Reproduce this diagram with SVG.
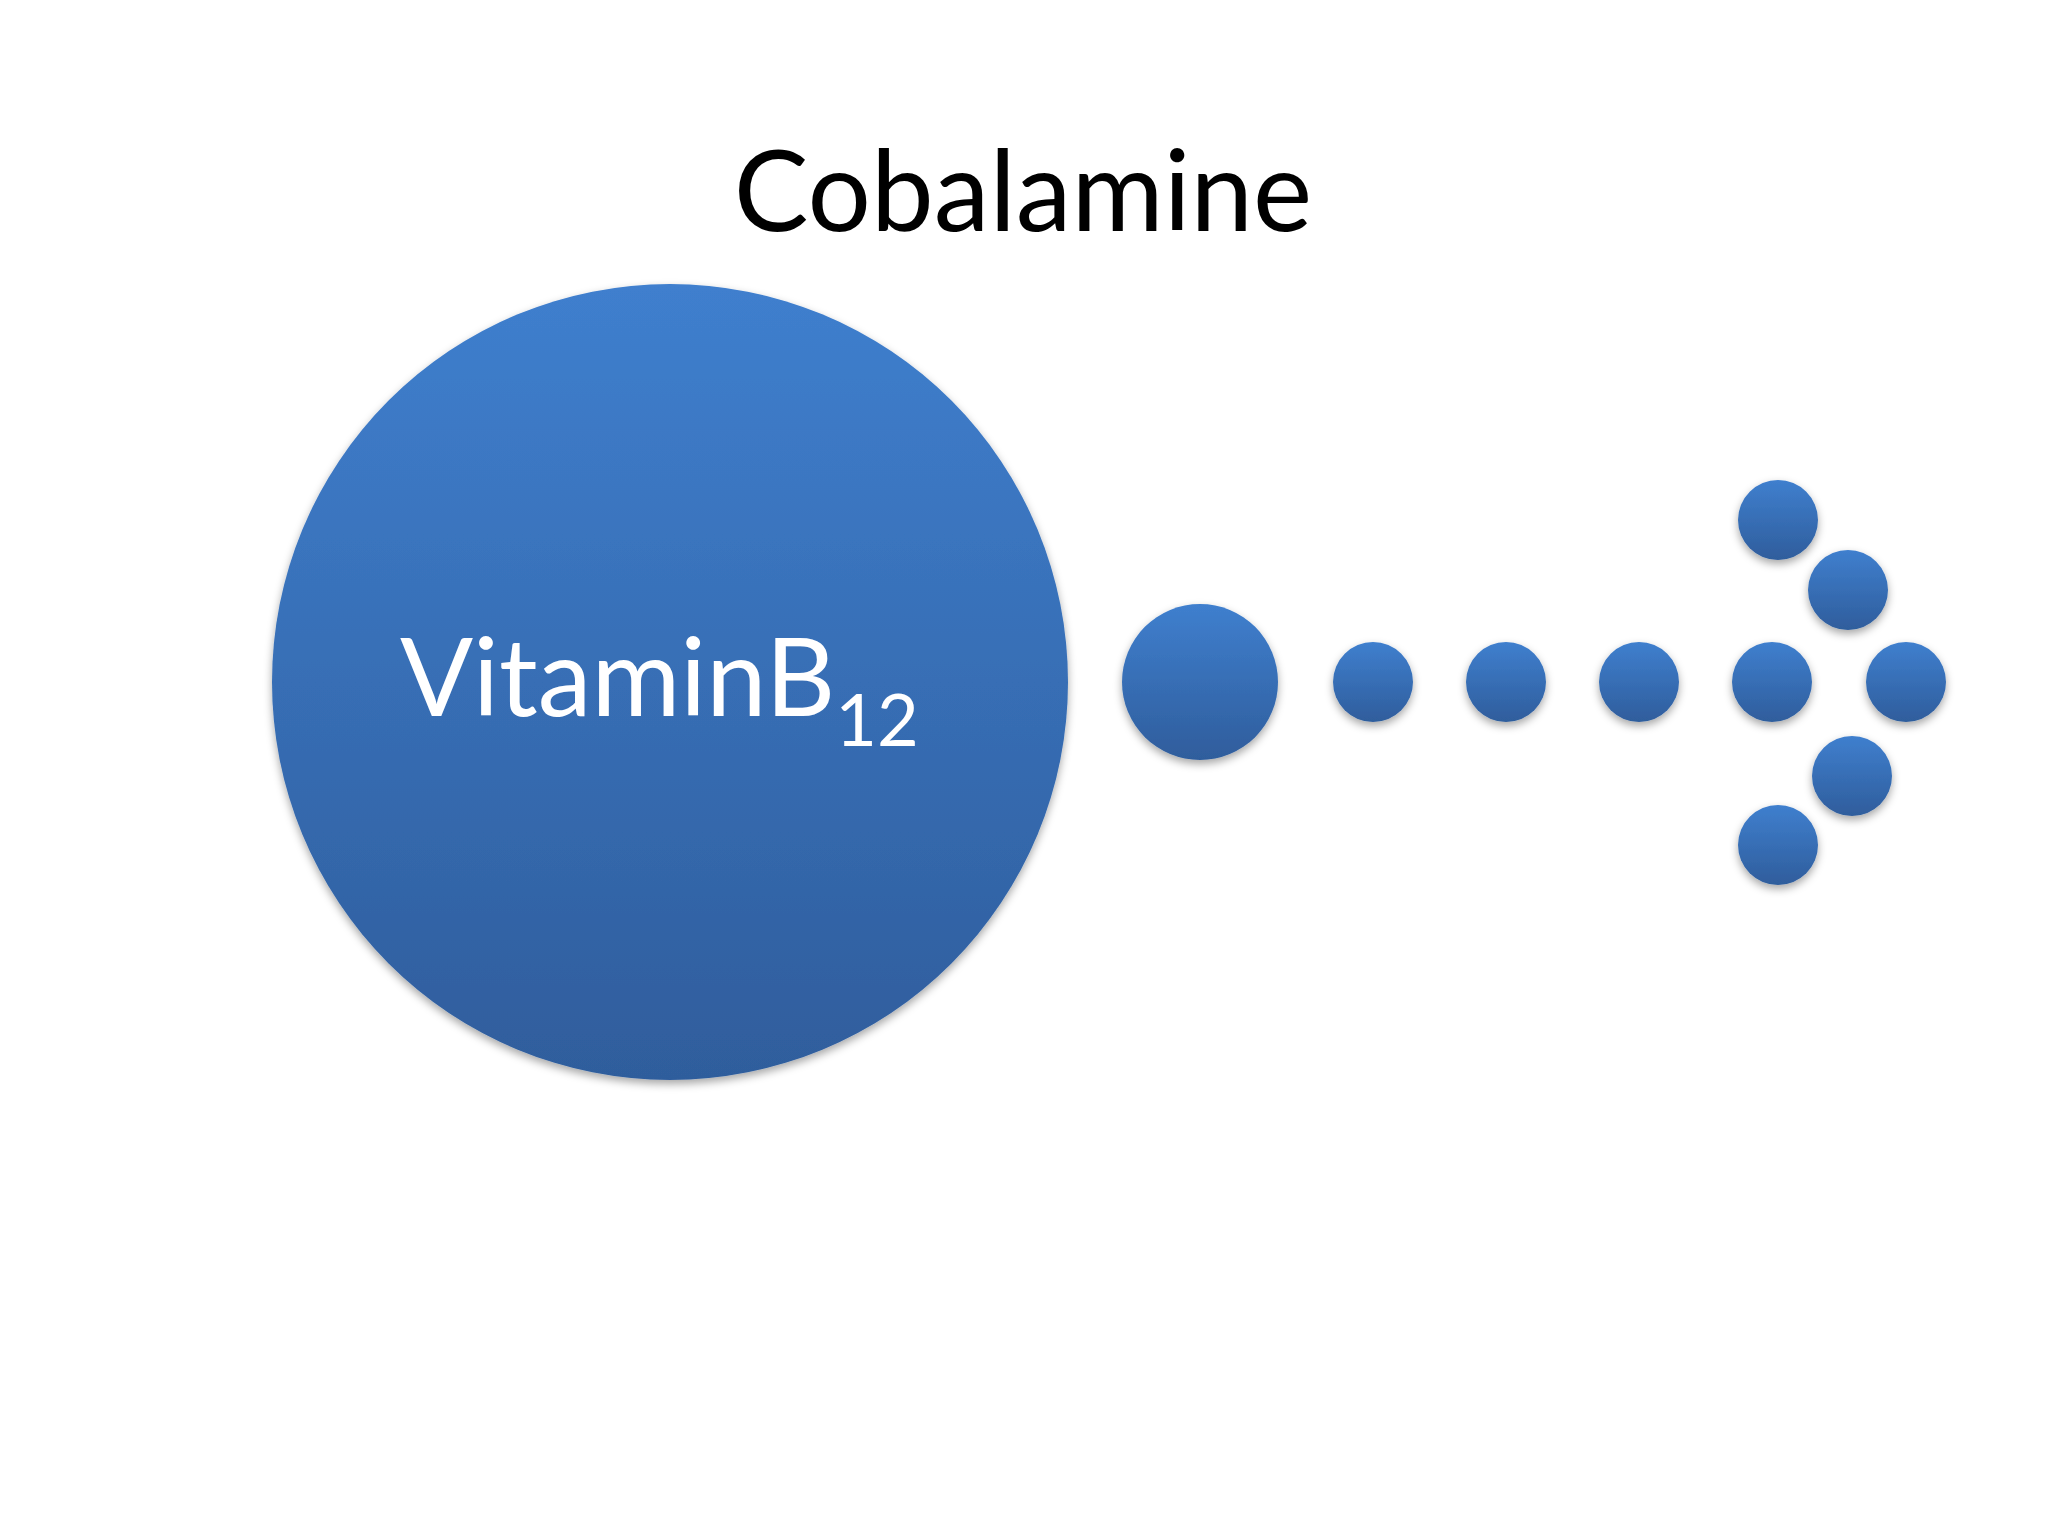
<svg xmlns="http://www.w3.org/2000/svg" width="2048" height="1536" viewBox="0 0 2048 1536">
<defs>
<linearGradient id="g" x1="0" y1="0" x2="0" y2="1"><stop offset="0" stop-color="#3f7fce"/><stop offset="1" stop-color="#2f5d9c"/></linearGradient>
<filter id="s" x="-20%" y="-20%" width="140%" height="140%"><feDropShadow dx="0" dy="4" stdDeviation="4" flood-color="#000" flood-opacity="0.35"/></filter>
</defs>
<style>.c{fill:url(#g);filter:url(#s)} text{font-family:Lato,"Open Sans",sans-serif}</style>
<rect width="2048" height="1536" fill="#fff"/>
<text x="1023" y="231" font-size="112" text-anchor="middle" fill="#000">Cobalamine</text>
<g id="main"><circle class="c" cx="670" cy="682" r="398"/>
<text x="400" y="716" font-size="108" fill="#fff">VitaminB<tspan font-size="72" dy="30">12</tspan></text></g>
<g id="dots">
<circle class="c" cx="1200" cy="682" r="78"/>
<circle class="c" cx="1373" cy="682" r="40"/>
<circle class="c" cx="1506" cy="682" r="40"/>
<circle class="c" cx="1639" cy="682" r="40"/>
<circle class="c" cx="1772" cy="682" r="40"/>
<circle class="c" cx="1906" cy="682" r="40"/>
<circle class="c" cx="1778" cy="520" r="40"/>
<circle class="c" cx="1848" cy="590" r="40"/>
<circle class="c" cx="1852" cy="776" r="40"/>
<circle class="c" cx="1778" cy="845" r="40"/>
</g>
</svg>
